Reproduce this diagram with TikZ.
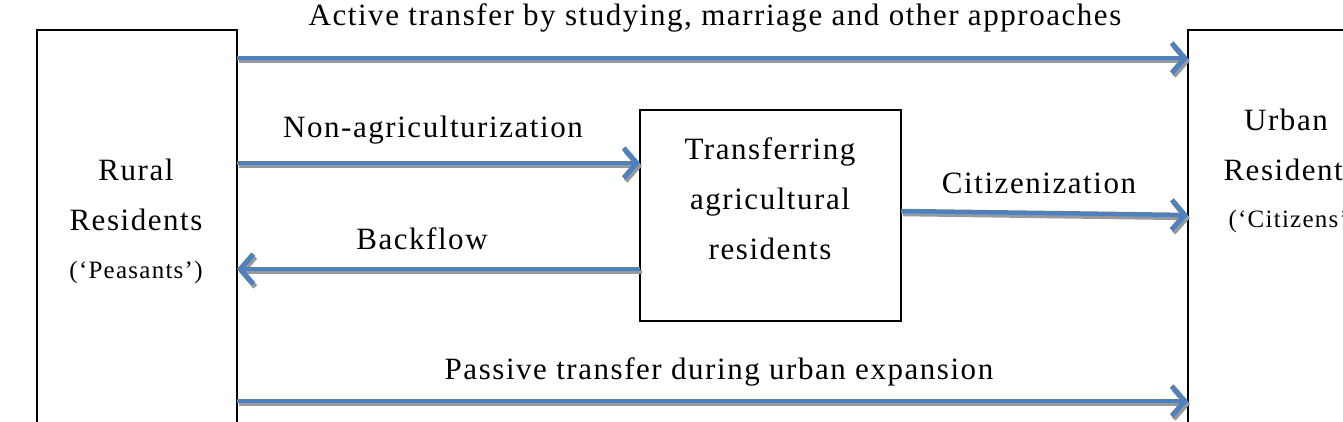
\documentclass[tikz,border=0pt]{standalone}
\usepackage{fontspec}
\setmainfont[LetterSpace=5]{Liberation Serif}
\usetikzlibrary{arrows.meta}
\begin{document}
\begin{tikzpicture}[x=1pt,y=-1pt,
  lbl/.style={font=\fontsize{31}{36}\selectfont},
  sml/.style={font=\fontsize{25}{30}\selectfont},
  flow/.style={line width=4.5pt,draw=arrblue,-{Straight Barb[length=13pt,width=30pt,line width=5pt]}},
  shad/.style={line width=4.5pt,draw=gray!80,-{Straight Barb[length=13pt,width=30pt,line width=5pt]}},
  box/.style={draw=black,line width=1.5pt}]
\definecolor{arrblue}{HTML}{4F81BD}
\useasboundingbox (0,0) rectangle (1343,421);
\clip (0,0) rectangle (1343,421);
\draw[box] (37,440) -- (37,30) -- (237,30) -- (237,440);
\draw[box] (1380,30) -- (1188,30) -- (1188,440);
\draw[box] (640,110) rectangle (901,321);
\node[lbl] (rr1) at (136,170) {Rural};
\node[lbl] (rr2) at (136,220) {Residents};
\node[sml] (rr3) at (136,272) {(‘Peasants’)};
\node[lbl] (ur1) at (1286,120) {Urban};
\node[lbl] (ur2) at (1290,170) {Residents};
\node[sml] (ur3) at (1293,221) {(‘Citizens’)};
\node[lbl,align=center,font=\fontsize{31}{50}\selectfont] (mid) at (770,199) {Transferring\\agricultural\\residents};
\coordinate (a1) at (237,58); \coordinate (a2) at (1188,58);
\coordinate (b1) at (237,163); \coordinate (b2) at (640,163);
\coordinate (c1) at (640,269); \coordinate (c2) at (237,269);
\coordinate (d1) at (901,211); \coordinate (d2) at (1188,215);
\coordinate (e1) at (237,401); \coordinate (e2) at (1188,401);
\foreach \s/\t in {a1/a2,b1/b2,c1/c2,d1/d2,e1/e2}{
  \draw[shad,transform canvas={xshift=2pt,yshift=-3pt}] (\s) -- (\t);
  \draw[flow] (\s) -- (\t);}
\node[lbl] (la) at (715,18) {Active transfer by studying, marriage and other approaches};
\node[lbl] (lb) at (433,130) {Non-agriculturization};
\node[lbl] (lc) at (422,239) {Backflow};
\node[lbl] (ld) at (1039,183) {Citizenization};
\node[lbl] (le) at (719,372) {Passive transfer during urban expansion};
\end{tikzpicture}
\end{document}
